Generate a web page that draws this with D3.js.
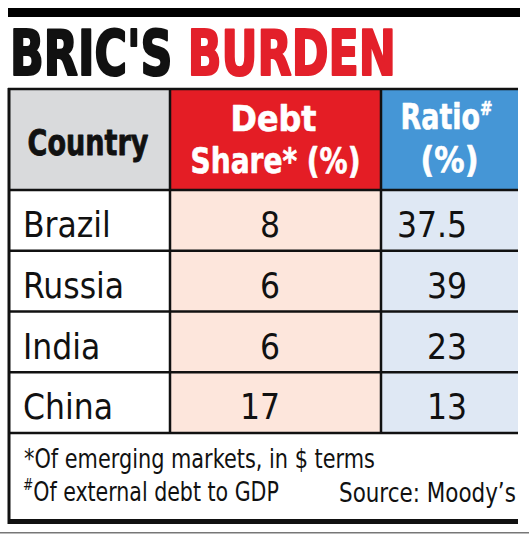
<!DOCTYPE html>
<html><head><meta charset="utf-8">
<script src="https://cdn.jsdelivr.net/npm/d3@7/dist/d3.min.js"></script>
<style>
html,body{margin:0;padding:0;background:#fff;}
svg{display:block;}
</style></head>
<body>
<script>
// ---- data ----
const titleParts = ["BRIC'S", "BURDEN"];
const headers = ["Country", "Debt", "Share* (%)", "Ratio", "(%)"];
const countries = ["Brazil", "Russia", "India", "China"];
const debtShare = ["8", "6", "6", "17"];
const ratio = ["37.5", "39", "23", "13"];
const footnotes = ["*Of emerging markets, in $ terms", "Of external debt to GDP"];
const source = "Source: Moody\u2019s";

const W = 529, H = 534;
const svg = d3.select("body").append("svg").attr("width", W).attr("height", H);

const condBold = "'Liberation Sans Narrow','DejaVu Sans Condensed','Roboto',sans-serif";
const cond = "'Liberation Sans Narrow','DejaVu Sans Condensed','Roboto',sans-serif";

// helper: text group scaled horizontally to a target width
function fitText(parent, o) {
  const g = parent.append("g");
  const t = g.append("text")
    .attr("font-family", o.family || cond)
    .attr("font-weight", o.weight || "normal")
    .attr("font-size", o.size)
    .attr("text-anchor", o.anchor || "start")
    .attr("fill", o.fill || "#111");
  if (o.stroke) t.attr("stroke", o.fill || "#111").attr("stroke-width", o.stroke).attr("stroke-linejoin", "round");
  o.parts.forEach(p => {
    const ts = t.append("tspan").text(p.text);
    if (p.fill) ts.attr("fill", p.fill).attr("stroke", o.stroke ? p.fill : null);
    if (p.size) ts.attr("font-size", p.size);
    if (p.dy) ts.attr("dy", p.dy);
  });
  let sx = 1;
  if (o.width) {
    const w = t.node().getBBox().width;
    if (w > 0) sx = o.width / w;
  }
  g.attr("transform", `translate(${o.x},${o.y}) scale(${sx},1)`);
  return g;
}

// geometry
const L = 8, R = 518, T = 88, HB = 190, RB = 433, FB = 522;
const colX = [L, 170, 381, R];

// top bar
svg.append("rect").attr("x", 8).attr("y", 8).attr("width", 512).attr("height", 9).attr("fill", "#000");

// title (one text, two colours)
fitText(svg, {x: 10, y: 75, size: 63, weight: "bold", family: condBold, stroke: 2.2, width: 386, fill: "#111",
  parts: [{text: titleParts[0], fill: "#111"}, {text: " " + titleParts[1], fill: "#e3202a"}]});

// row scale
const y = d3.scaleBand().domain(countries).range([HB, RB]);

// backgrounds
const headFill = ["#d9dadc", "#e41d25", "#4596d6"];
const bodyFill = ["#ffffff", "#fde6dc", "#dfe8f4"];
for (let i = 0; i < 3; i++) {
  svg.append("rect").attr("x", colX[i]).attr("y", T).attr("width", colX[i+1]-colX[i]).attr("height", HB-T).attr("fill", headFill[i]);
  svg.append("rect").attr("x", colX[i]).attr("y", HB).attr("width", colX[i+1]-colX[i]).attr("height", RB-HB).attr("fill", bodyFill[i]);
}

// header text
const redC = (colX[1]+colX[2])/2, blueC = (colX[2]+colX[3])/2;
fitText(svg, {x: (colX[0]+colX[1])/2 - 1, y: 155, anchor: "middle", size: 36, weight: "bold", family: condBold,
  stroke: 0.8, width: 121, fill: "#111", parts: [{text: headers[0]}]});
fitText(svg, {x: redC - 2, y: 131, anchor: "middle", size: 36, weight: "bold", family: condBold,
  stroke: 0.6, width: 86, fill: "#fff", parts: [{text: headers[1]}]});
fitText(svg, {x: redC, y: 173, anchor: "middle", size: 36, weight: "bold", family: condBold,
  stroke: 0.6, width: 170, fill: "#fff", parts: [{text: headers[2]}]});
fitText(svg, {x: blueC - 3, y: 129, anchor: "middle", size: 36, weight: "bold", family: condBold,
  stroke: 0.6, width: 92, fill: "#fff", parts: [{text: headers[3]}, {text: "#", size: 20, dy: -14}]});
fitText(svg, {x: blueC, y: 172, anchor: "middle", size: 36, weight: "bold", family: condBold,
  stroke: 0.6, width: 58, fill: "#fff", parts: [{text: headers[4]}]});

// body rows
const rows = svg.append("g");
rows.selectAll("text.country").data(countries).join("text")
  .attr("class", "country")
  .attr("x", 23).attr("y", d => y(d) + 47)
  .attr("font-family", cond).attr("font-size", 35)
  .attr("fill", "#111")
  .text(d => d);
rows.selectAll("text.debt").data(debtShare).join("text")
  .attr("class", "debt")
  .attr("x", 280).attr("y", (d, i) => y(countries[i]) + 47).attr("text-anchor", "end")
  .attr("font-family", cond).attr("font-size", 35)
  .attr("fill", "#111")
  .text(d => d);
rows.selectAll("text.ratio").data(ratio).join("text")
  .attr("class", "ratio")
  .attr("x", 467).attr("y", (d, i) => y(countries[i]) + 47).attr("text-anchor", "end")
  .attr("font-family", cond).attr("font-size", 35)
  .attr("fill", "#111")
  .text(d => d);

// grid lines
const grid = svg.append("g").attr("stroke", "#111").attr("fill", "none");
grid.selectAll("line.h").data(countries).join("line")
  .attr("x1", L).attr("x2", R)
  .attr("y1", d => y(d)).attr("y2", d => y(d))
  .attr("stroke-width", 2.5);
grid.append("line").attr("x1", L).attr("x2", R).attr("y1", RB).attr("y2", RB).attr("stroke-width", 2.5);
[colX[1], colX[2]].forEach(x => {
  grid.append("line").attr("x1", x).attr("x2", x).attr("y1", T).attr("y2", RB).attr("stroke-width", 2.5);
});
grid.append("line").attr("x1", L).attr("x2", R).attr("y1", T + 1).attr("y2", T + 1).attr("stroke-width", 2.5);
grid.append("line").attr("x1", L + 1).attr("x2", L + 1).attr("y1", T).attr("y2", FB + 2).attr("stroke-width", 3);
svg.append("rect").attr("x", L).attr("y", 519).attr("width", R - L).attr("height", 5).attr("fill", "#111");
svg.append("rect").attr("x", 0).attr("y", 532).attr("width", W).attr("height", 1.5).attr("fill", "#777");

// footnotes
fitText(svg, {x: 24, y: 468, size: 27, width: 351, parts: [{text: footnotes[0]}]});
fitText(svg, {x: 23, y: 501, size: 27, width: 256,
  parts: [{text: "#", size: 16, dy: -11}, {text: footnotes[1], dy: 11}]});
fitText(svg, {x: 339, y: 502, size: 27, width: 177, parts: [{text: source}]});
</script>
</body></html>
